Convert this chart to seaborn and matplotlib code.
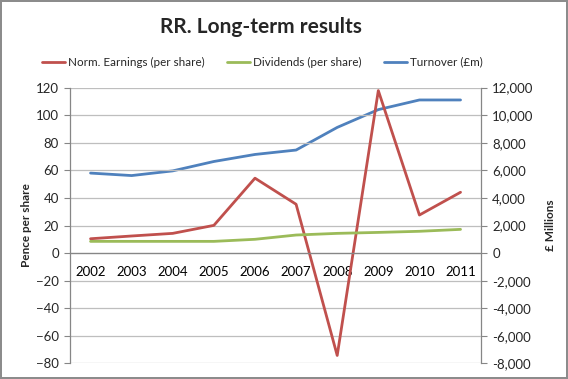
import numpy as np
import pandas as pd
import seaborn as sns
import matplotlib.pyplot as plt
from matplotlib.ticker import FuncFormatter, FixedLocator

years = ['2002', '2003', '2004', '2005', '2006', '2007', '2008', '2009', '2010', '2011']
earnings = [10.4, 12.4, 14.3, 20.1, 54.3, 35.4, -74.2, 117.8, 27.6, 44.1]
dividends = [8.5, 8.5, 8.5, 8.5, 10.0, 13.1, 14.3, 15.0, 15.8, 17.2]
turnover = [5800, 5620, 5960, 6640, 7150, 7470, 9110, 10400, 11100, 11100]

df = pd.DataFrame({'pos': np.arange(len(years)), 'year': years,
                   'earn': earnings, 'div': dividends, 'turn': turnover})

sns.set_style('white')
plt.rcParams['font.family'] = ['Lato', 'DejaVu Sans']

red, green, blue = '#C0504D', '#9BBB59', '#4F81BD'
grid_c = '#BEBEBE'
axis_c = '#868686'

fig = plt.figure(figsize=(5.68, 3.79), dpi=100)
fig.patch.set_edgecolor('#8C8C8C')
fig.patch.set_linewidth(1.5)
ax = fig.add_axes([0.1232, 0.041, 0.7238, 0.728])
ax2 = ax.twinx()

sns.lineplot(data=df, x='pos', y='turn', ax=ax2, color=blue, linewidth=2.0, label='Turnover (£m)', legend=False)
sns.lineplot(data=df, x='pos', y='earn', ax=ax, color=red, linewidth=2.0, label='Norm. Earnings (per share)', legend=False)
sns.lineplot(data=df, x='pos', y='div', ax=ax, color=green, linewidth=2.0, label='Dividends (per share)', legend=False)

ax.set_zorder(ax2.get_zorder() + 1)
ax.patch.set_visible(False)

ax.set_xlim(-0.5, len(years) - 0.5)
ax.set_ylim(-80, 120)
ax2.set_ylim(-8000, 12000)
ax.set_yticks(np.arange(-80, 121, 20))
ax2.set_yticks(np.arange(-8000, 12001, 2000))
ax2.yaxis.set_major_formatter(FuncFormatter(lambda v, p: f'{int(v):,}'))

ax.grid(axis='y', color=grid_c, linewidth=0.9)
ax.set_axisbelow(True)

for a in (ax, ax2):
    a.spines['top'].set_visible(False)
    for s in ('left', 'right'):
        a.spines[s].set_color(axis_c)
        a.spines[s].set_linewidth(0.9)
ax.spines['right'].set_visible(False)
ax2.spines['left'].set_visible(False)
ax2.spines['bottom'].set_visible(False)
ax.spines['bottom'].set_position(('data', 0))
ax.spines['bottom'].set_color(axis_c)
ax.spines['bottom'].set_linewidth(0.9)

ax.set_xticks(df['pos'])
ax.set_xticklabels(years)
ax.xaxis.set_minor_locator(FixedLocator(np.arange(0.5, len(years) - 1, 1)))
ax.tick_params(axis='x', which='major', length=0, pad=9, labelsize=9.5, colors='black')
ax.tick_params(axis='x', which='minor', length=4, color=axis_c, direction='out')
ax.tick_params(axis='y', length=4, color=axis_c, direction='out', left=True, labelsize=9.5, pad=4)
ax2.tick_params(axis='y', length=4, color=axis_c, direction='out', right=True, labelsize=9.5, pad=4)

ax.set_xlabel('')
ax.set_ylabel('Pence per share', fontsize=8.5, fontweight='bold', labelpad=3)
ax2.set_ylabel('£ Millions', fontsize=8.5, fontweight='bold', labelpad=8)

fig.text(0.46, 0.928, 'RR. Long-term results', fontsize=15, fontweight='bold', ha='center', va='center')

handles = ax.get_lines()[:2] + ax2.get_lines()[:1]
labels = ['Norm. Earnings (per share)', 'Dividends (per share)', 'Turnover (£m)']
fig.legend(handles, labels, loc='center', bbox_to_anchor=(0.462, 0.836), ncol=3, frameon=False,
           fontsize=8.4, handlelength=2.0, handletextpad=0.25, columnspacing=1.9)

fig.savefig('out.png', dpi=100)
